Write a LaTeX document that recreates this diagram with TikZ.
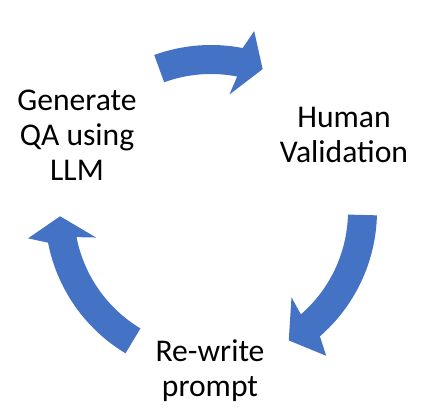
\documentclass[tikz,border=0pt]{standalone}
\usepackage{fontspec}
\setmainfont{Carlito}
\usepackage{tikz}
\definecolor{arrowblue}{HTML}{4472C4}
% curved block arrow round the centre: tail angle, head base angle, tip angle
\def\cyclearrow(#1:#2:#3){\fill[arrowblue] (#1:166) arc (#1:#2:166) -- ({#2-2.5}:185) -- (#3:151) -- ({#2+2}:118) -- (#2:137) arc (#2:#1:137) -- cycle;}

\begin{document}
\begin{tikzpicture}[x=0.02cm, y=0.02cm]
	%%%%% START %%%%%
	\tikzset{steptext/.style={align=center, font=\fontsize{18}{20}\selectfont}}
	\useasboundingbox (0, 0) rectangle (428, 418);
	
	\node[steptext] (gen) at (77, 283) {Generate\\QA using\\LLM};
	\node[steptext] (val) at (344, 283) {Human\\Validation};
	\node[steptext] (rew) at (210, 47) {Re-write\\prompt};
	
	\begin{scope}[shift={(211, 207)}]
		\cyclearrow(110:79:70)
		\cyclearrow(-1.5:-49:-59)
		\cyclearrow(239:191:182)
	\end{scope}
	%%%%% END %%%%%
\end{tikzpicture}
\end{document}
